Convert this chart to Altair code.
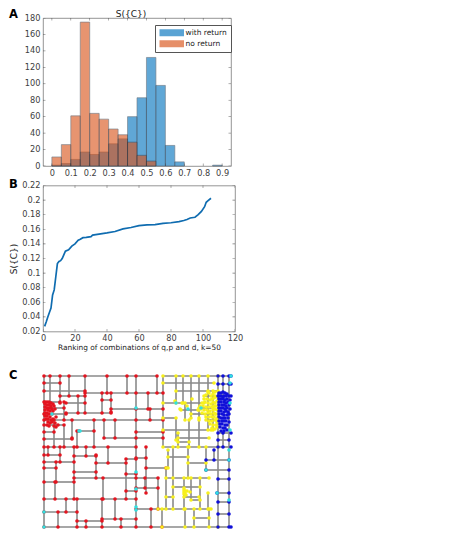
import altair as alt
import pandas as pd

bin_starts = [round(i * 0.05, 2) for i in range(18)]
with_return = [1, 3, 8, 17, 14, 17, 27, 33, 60, 83, 132, 98, 25, 5, 0, 0, 0, 1]
no_return = [11, 26, 61, 175, 64, 57, 45, 38, 29, 13, 6, 0, 0, 0, 0, 0, 0, 0]

rank = [1, 2, 3, 4, 5, 6, 7, 8, 9, 10, 11, 12, 13, 14, 16, 18, 20, 22, 23, 25, 27, 30, 31, 35, 40, 45, 50, 55, 60,
        65, 70, 75, 80, 85, 88, 90, 92, 95, 97, 99, 101, 102, 103, 105]
score = [.027, .033, .040, .046, .052, .070, .077, .095, .113, .116, .117, .120, .125, .130, .132, .137, .140, .145,
         .146, .1485, .149, .150, .152, .1535, .155, .157, .1605, .1625, .165, .166, .1665, .168, .169, .1705, .172,
         .1735, .1755, .1765, .180, .1845, .191, .197, .199, .2025]

red_segments = [
    (43, 376, 135, 376), (43, 376, 43, 527), (49, 376, 49, 403), (59, 376, 59, 403), (68, 376, 68, 396),
    (84, 376, 84, 413), (106, 376, 106, 393), (126, 376, 126, 393), (43, 383, 59, 383), (43, 391, 84, 391),
    (84, 393, 135, 393), (101, 393, 101, 413), (110, 393, 110, 412), (101, 400, 110, 400), (59, 396, 84, 396),
    (65, 403, 84, 403), (77, 396, 77, 413), (65, 413, 110, 413), (110, 409, 135, 409), (43, 420, 135, 420),
    (103, 420, 103, 438), (114, 420, 114, 438), (103, 438, 114, 438), (71, 420, 71, 438), (78, 431, 93, 431),
    (93, 420, 93, 447), (76, 431, 76, 447), (43, 447, 135, 447), (43, 432, 53, 432), (43, 439, 71, 439),
    (53, 420, 53, 447), (43, 425, 63, 425), (63, 425, 63, 447), (50, 408, 63, 408), (63, 402, 63, 420),
    (43, 402, 59, 402), (43, 414, 65, 414), (114, 438, 135, 438), (135, 376, 135, 527),
    (43, 455, 59, 455), (47, 447, 47, 455), (59, 447, 59, 462), (43, 462, 73, 462), (73, 447, 73, 499),
    (43, 468, 55, 468), (55, 462, 55, 482), (43, 482, 73, 482), (54, 482, 54, 499), (43, 499, 135, 499),
    (43, 512, 76, 512), (57, 512, 57, 527), (65, 499, 65, 512), (76, 499, 76, 527), (43, 527, 135, 527),
    (76, 521, 101, 521), (85, 521, 85, 527), (101, 499, 101, 527), (114, 499, 114, 519), (101, 519, 135, 519),
    (120, 519, 120, 527), (73, 478, 135, 478), (73, 472, 95, 472), (95, 455, 95, 478), (73, 456, 95, 456),
    (85, 447, 85, 456), (95, 463, 125, 463), (107, 447, 107, 463), (125, 459, 125, 499), (125, 459, 135, 459),
    (125, 474, 135, 474), (125, 491, 135, 491), (102, 478, 102, 499), (135, 393, 162, 393), (135, 409, 162, 409),
    (135, 420, 162, 420), (135, 432, 162, 432), (135, 438, 162, 438), (135, 376, 156, 376), (156, 376, 156, 393),
    (147, 393, 147, 409), (149, 409, 149, 420), (135, 458, 145, 458), (145, 447, 145, 493), (135, 478, 157, 478),
    (144, 478, 144, 488), (135, 488, 157, 488), (157, 478, 157, 509), (135, 509, 157, 509), (150, 509, 150, 527),
    (135, 527, 161, 527), (145, 468, 165, 468),
]
yellow_segments = [
    (162, 376, 217, 376), (162, 376, 162, 447), (175, 376, 175, 403), (182, 376, 182, 403), (190, 376, 190, 418),
    (198, 376, 198, 418), (207, 376, 207, 392), (162, 383, 213, 383), (175, 391, 217, 391), (162, 403, 203, 403),
    (162, 418, 175, 418), (175, 418, 175, 440), (162, 430, 210, 430), (177, 438, 208, 438), (188, 420, 188, 447),
    (198, 420, 198, 447), (177, 433, 177, 447), (177, 442, 188, 442), (162, 447, 217, 447), (172, 447, 172, 478),
    (167, 450, 167, 468), (167, 457, 187, 457), (187, 447, 187, 478), (187, 463, 205, 463), (205, 447, 205, 470),
    (165, 468, 165, 509), (172, 478, 172, 509), (183, 478, 183, 509), (190, 478, 190, 500), (199, 478, 199, 509),
    (165, 478, 208, 478), (172, 487, 199, 487), (165, 497, 172, 497), (183, 497, 198, 497), (190, 500, 199, 500),
    (207, 493, 207, 509), (157, 509, 210, 509), (161, 509, 161, 527), (184, 509, 184, 527), (193, 509, 193, 527),
    (193, 518, 208, 518), (208, 509, 208, 527), (161, 527, 217, 527), (198, 408, 212, 408), (190, 414, 214, 414),
    (203, 396, 214, 396), (207, 391, 207, 430), (212, 391, 212, 430), (205, 420, 216, 420), (180, 410, 198, 410),
    (184, 403, 184, 420),
]
blue_segments = [
    (217, 376, 230, 376), (217, 376, 217, 527), (228, 376, 228, 527), (213, 450, 213, 460), (205, 460, 228, 460),
    (205, 470, 228, 470), (217, 479, 228, 479), (216, 493, 228, 493), (217, 502, 228, 502), (217, 514, 228, 514),
    (217, 527, 230, 527), (217, 440, 228, 440), (217, 433, 230, 433), (222, 433, 222, 447), (217, 447, 230, 447),
    (222, 376, 222, 397), (217, 384, 230, 384), (217, 396, 230, 396),
]
red_cluster = [
    (44, 402), (46, 402), (48, 402), (50, 403), (52, 404), (44, 404), (46, 405), (48, 405), (50, 406), (53, 406),
    (44, 407), (46, 408), (48, 408), (51, 409), (54, 409), (44, 410), (47, 410), (49, 411), (52, 411), (44, 413),
    (46, 413), (48, 414), (51, 414), (44, 416), (46, 416), (49, 417), (45, 419), (47, 419), (50, 420), (52, 419),
    (55, 417), (47, 422), (49, 423), (51, 422), (54, 423), (46, 425), (48, 426), (53, 426), (55, 427), (57, 425),
]
yellow_cluster = [
    (205, 395), (208, 393), (210, 396), (212, 394), (214, 392), (203, 399), (206, 399), (209, 400), (211, 399),
    (213, 398), (215, 397), (201, 403), (204, 402), (207, 403), (210, 404), (212, 402), (214, 403), (216, 401),
    (199, 406), (202, 406), (205, 407), (208, 407), (211, 407), (213, 406), (215, 406), (197, 410), (200, 409),
    (203, 410), (206, 410), (209, 411), (212, 410), (214, 409), (216, 410), (201, 413), (204, 414), (207, 413),
    (210, 414), (213, 413), (215, 414), (205, 417), (208, 417), (211, 417), (213, 417), (216, 418), (208, 421),
    (211, 421), (214, 420), (216, 422), (209, 424), (212, 425), (215, 425), (211, 428), (214, 429), (216, 427),
    (183, 488), (183, 490), (183, 492), (184, 493), (185, 495), (183, 494), (184, 491), (186, 491), (189, 492),
    (181, 403), (186, 406), (179, 409), (174, 401), (191, 399),
]
blue_cluster = [
    (218, 393), (220, 393), (222, 392), (224, 393), (226, 394), (218, 396), (220, 396), (223, 396), (225, 396),
    (228, 396), (218, 399), (220, 399), (222, 399), (224, 400), (226, 399), (229, 400), (218, 402), (220, 402),
    (223, 402), (225, 403), (227, 402), (218, 405), (221, 405), (223, 405), (225, 406), (228, 405), (218, 408),
    (220, 408), (222, 408), (224, 409), (226, 408), (229, 409), (218, 411), (220, 411), (223, 412), (225, 411),
    (227, 412), (218, 414), (221, 414), (223, 415), (226, 415), (228, 414), (218, 417), (220, 418), (222, 418),
    (224, 418), (227, 418), (218, 421), (221, 421), (223, 421), (225, 421), (228, 422), (219, 424), (221, 424),
    (224, 425), (226, 425), (219, 427), (222, 428), (224, 428), (220, 431), (223, 431), (226, 430),
    (222, 376), (222, 384), (217, 384), (228, 384),
]
cyan_nodes = [(51, 414), (79, 431), (78, 431), (43, 512), (43, 527), (135, 472), (135, 489), (135, 408), (135, 507),
              (135, 510), (175, 403), (187, 409), (200, 408), (230, 376), (229, 383), (229, 403), (229, 430),
              (205, 470), (216, 493), (228, 460), (228, 450), (228, 500)]

x_ticks_a = [i / 10 for i in range(10)]
y_ticks_a = list(range(0, 181, 20))
x_ticks_b = list(range(0, 121, 20))
y_ticks_b = [round(0.02 + i * 0.02, 2) for i in range(11)]

GRAY = "#404040"
FONT = "DejaVu Sans"

axis_common = dict(labelFont=FONT, labelFontSize=8.2, labelColor=GRAY, tickSize=0, domain=False, grid=False,
                   labelPadding=3, labelOverlap=False, labelFlush=False)


def tick_layers(x_values, y_values, xs, ys, xaxis, yaxis, h, w):
    layers = []
    xdf = pd.DataFrame({"v": x_values})
    ydf = pd.DataFrame({"v": y_values})
    for yp in (0, h):
        layers.append(alt.Chart(xdf).mark_tick(size=5, thickness=0.6, color=GRAY, clip=True, orient="vertical")
                      .encode(x=alt.X("v:Q", scale=xs, axis=xaxis), y=alt.value(yp)))
    for xp in (0, w):
        layers.append(alt.Chart(ydf).mark_tick(size=5, thickness=0.6, color=GRAY, clip=True, orient="horizontal")
                      .encode(y=alt.Y("v:Q", scale=ys, axis=yaxis), x=alt.value(xp)))
    return layers


def letter(s, py):
    return alt.Chart(pd.DataFrame({"t": [s]})).mark_text(
        text=s, font=FONT, fontSize=11.5, fontWeight="bold", align="left", baseline="middle", color="black"
    ).encode(x=alt.value(-34), y=alt.value(py))


# Panel A
hist = pd.DataFrame({
    "start": bin_starts * 2,
    "end": [round(b + 0.05, 2) for b in bin_starts] * 2,
    "count": with_return + no_return,
    "base": [0] * 36,
    "series": ["with return"] * 18 + ["no return"] * 18,
    "o": [0] * 18 + [1] * 18,
})
hist = hist[hist["count"] > 0]
W_A, H_A = 188, 148
xa = alt.Scale(domain=[-0.047, 0.947], nice=False, zero=False)
ya = alt.Scale(domain=[0, 180], nice=False)
xa_axis = alt.Axis(values=x_ticks_a, title=None, labelExpr="datum.value == 0 ? '0' : format(datum.value, '.1f')", **axis_common)
ya_axis = alt.Axis(values=y_ticks_a, title=None, **axis_common)
bars = alt.Chart(hist).mark_rect(opacity=0.62, stroke="#203040", strokeWidth=0.8, strokeOpacity=0.8).encode(
    x=alt.X("start:Q", scale=xa, axis=xa_axis),
    x2="end:Q",
    y=alt.Y("count:Q", scale=ya, axis=ya_axis),
    y2="base:Q",
    color=alt.Color("series:N", scale=alt.Scale(domain=["with return", "no return"], range=["#0072BD", "#D95319"]),
                    legend=alt.Legend(orient="none", legendX=112, legendY=7, title=None, fillColor="white", strokeColor="#555555",
                                      padding=4, labelFont=FONT, labelFontSize=7.5, labelColor="#222222", rowPadding=2, labelOffset=10,
                                      symbolOffset=9, symbolType="M-3.5,-1H3.5V1H-3.5Z", symbolSize=49, symbolStrokeWidth=0, symbolOpacity=0.65)),
    order="o:Q",
)
title_a = alt.Chart(pd.DataFrame({"t": ["S({C})"]})).mark_text(
    text="S({C})", font=FONT, fontSize=9, color="#222222", align="center", baseline="alphabetic"
).encode(x=alt.value(88), y=alt.value(-1))
panel_a = alt.layer(bars, *tick_layers(x_ticks_a, y_ticks_a, xa, ya, xa_axis, ya_axis, H_A, W_A), title_a, letter("A", -3)).properties(width=W_A, height=H_A)

# Panel B
line_df = pd.DataFrame({"rank": rank, "score": score})
W_B, H_B = 192, 146
xb = alt.Scale(domain=[0, 120], nice=False)
yb = alt.Scale(domain=[0.02, 0.22], nice=False, zero=False)
xb_axis = alt.Axis(values=x_ticks_b, title="Ranking of combinations of q,p and d, k=50",
                   titleFont=FONT, titleFontSize=7.4, titleFontWeight="normal", titleColor="#222222", titlePadding=2, **axis_common)
yb_axis = alt.Axis(values=y_ticks_b, format="~g", title="S({C})",
                   titleFont=FONT, titleFontSize=9, titleFontWeight="normal", titleColor="#222222", titlePadding=3, **axis_common)
b_line = alt.Chart(line_df).mark_line(color="#0f6cb0", strokeWidth=1.7).encode(
    x=alt.X("rank:Q", scale=xb, axis=xb_axis),
    y=alt.Y("score:Q", scale=yb, axis=yb_axis),
)
panel_b = alt.layer(b_line, *tick_layers(x_ticks_b, y_ticks_b, xb, yb, xb_axis, yb_axis, H_B, W_B), letter("B", -1)).properties(width=W_B, height=H_B)

# Panel C
all_segments = red_segments + yellow_segments + blue_segments
seg_df = pd.DataFrame(all_segments, columns=["x1", "y1", "x2", "y2"])
nodes = []
for colour, segs, cluster in (("red", red_segments, red_cluster), ("yellow", yellow_segments, yellow_cluster), ("blue", blue_segments, blue_cluster)):
    for s in segs:
        nodes.append((s[0], s[1], colour))
        nodes.append((s[2], s[3], colour))
    nodes.extend((p[0], p[1], colour) for p in cluster)
nodes.extend((p[0], p[1], "cyan") for p in cyan_nodes)
node_df = pd.DataFrame(nodes, columns=["x", "y", "c"]).drop_duplicates()
node_df["o"] = node_df["c"].map({"red": 0, "yellow": 1, "blue": 2, "cyan": 3})
node_df = node_df.sort_values("o")
W_C, H_C = 192, 176
xc = alt.Scale(domain=[42, 234], nice=False, zero=False)
yc = alt.Scale(domain=[527, 351], nice=False, zero=False)
seg_layer = alt.Chart(seg_df).mark_rule(color="#8a8a8a", strokeWidth=1.6).encode(
    x=alt.X("x1:Q", scale=xc, axis=None), x2="x2:Q", y=alt.Y("y1:Q", scale=yc, axis=None), y2="y2:Q")
node_layer = alt.Chart(node_df).mark_circle(size=13, opacity=1).encode(
    x=alt.X("x:Q", scale=xc, axis=None), y=alt.Y("y:Q", scale=yc, axis=None),
    color=alt.Color("c:N", scale=alt.Scale(domain=["red", "yellow", "blue", "cyan"], range=["#e4141f", "#f7f01c", "#1010d8", "#30e0e0"]), legend=None),
    order="o:Q",
)
panel_c = alt.layer(seg_layer, node_layer, letter("C", 25)).properties(width=W_C, height=H_C, view=alt.ViewConfig(stroke=None))

chart = alt.vconcat(panel_a, panel_b, panel_c, spacing=19.5, bounds="flush").resolve_scale(color="independent").configure(
    padding=0,
).configure_view(stroke="#7a7a7a", strokeWidth=0.8)
chart = chart.properties(background="white")
chart.save("out.html", embed_options={"renderer": "svg", "actions": False})
